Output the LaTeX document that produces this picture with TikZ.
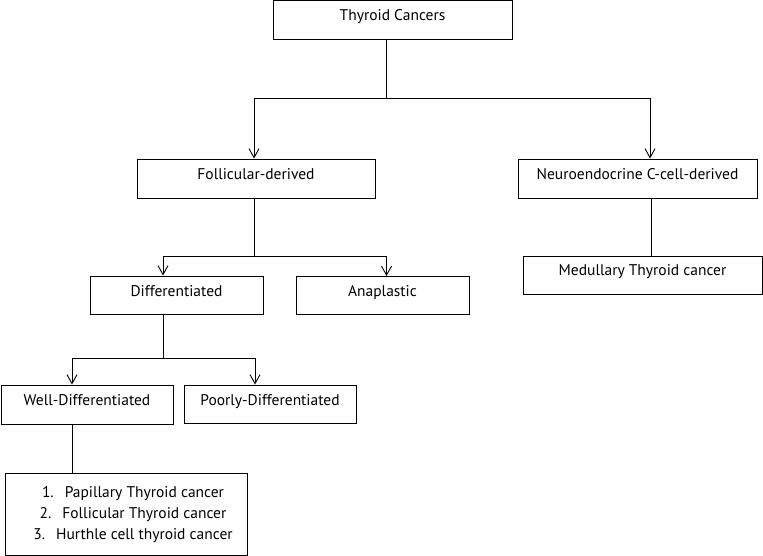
\documentclass[tikz,border=0pt]{standalone}
\usepackage{fontspec}
\setmainfont{PT Sans}
\usetikzlibrary{arrows.meta}
\tikzset{
  box/.style={draw, line width=0.9pt, inner sep=0pt, minimum height=39pt,
    text height=11pt, text depth=9pt, font=\fontsize{15.5}{18}\selectfont},
  link/.style={line width=0.9pt},
  arr/.style={link, -{Straight Barb[length=9pt,width=10pt,line width=0.9pt]}}
}
\begin{document}
\begin{tikzpicture}[x=1pt,y=-1pt]
\useasboundingbox (0,0) rectangle (763,556);
% boxes
\node[box, minimum width=239pt] (thyroid) at (392.5,20) {Thyroid Cancers};
\node[box, minimum width=238pt] (follicular) at (256,178.5) {Follicular-derived};
\node[box, minimum width=239pt] (neuro) at (637.5,178.5) {Neuroendocrine C-cell-derived};
\node[box, minimum width=239pt, minimum height=38pt] (medullary) at (642.5,275) {Medullary Thyroid cancer};
\node[box, minimum width=173pt, minimum height=38pt] (diff) at (176.5,295) {Differentiated};
\node[box, minimum width=173pt, minimum height=38pt] (anaplastic) at (382.5,295.5) {Anaplastic};
\node[box, minimum width=172pt] (well) at (87,404.5) {Well-Differentiated};
\node[box, minimum width=172pt, minimum height=38pt] (poorly) at (270,404) {Poorly-Differentiated};
\node[draw, line width=0.9pt, minimum width=242pt, minimum height=82pt, align=center,
  font=\fontsize{15.5}{21}\selectfont] (types) at (126,514.5)
  {\hspace*{14pt}1.\hspace{11pt}Papillary Thyroid cancer\\
   \hspace*{14pt}2.\hspace{11pt}Follicular Thyroid cancer\\
   \hspace*{14pt}3.\hspace{11pt}Hurthle cell thyroid cancer};
% junctions
\coordinate (j1) at (386,98);
\coordinate (j2) at (254,256);
\coordinate (j3) at (163,358);
% connectors
\draw[link] (thyroid.south -| j1) -- (j1);
\draw[arr] (j1) -| ([xshift=-2pt]follicular.north);
\draw[arr] (j1) -| ([xshift=12.5pt]neuro.north);
\draw[link] (follicular.south -| j2) -- (j2);
\draw[arr] (j2) -| ([xshift=-13.5pt]diff.north);
\draw[arr] (j2) -| ([xshift=4pt]anaplastic.north);
\draw[link] (diff.south -| j3) -- (j3);
\draw[arr] (j3) -| ([xshift=-15pt]well.north);
\draw[arr] (j3) -| ([xshift=-15pt]poorly.north);
\draw[link] ([xshift=-15pt]well.south) -- ([xshift=-15pt]well.south |- types.north);
\draw[link] ([xshift=13.5pt]neuro.south) -- ([xshift=13.5pt]neuro.south |- medullary.north);
\end{tikzpicture}
\end{document}
